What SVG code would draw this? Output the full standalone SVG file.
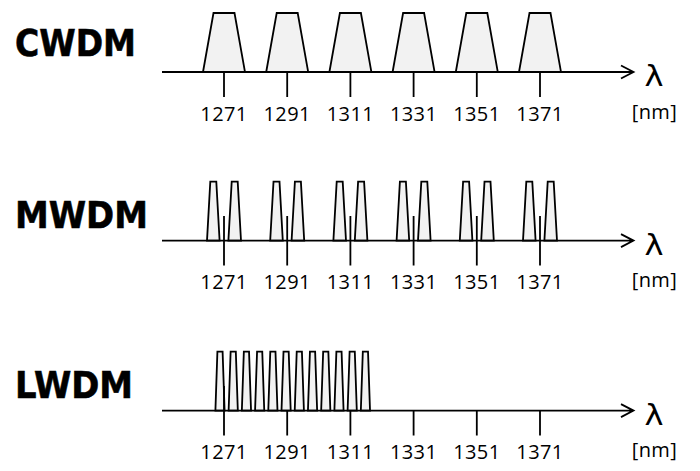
<svg xmlns="http://www.w3.org/2000/svg" xmlns:xlink="http://www.w3.org/1999/xlink" width="700" height="471" viewBox="0 0 700 471">
<style>
.title{font-family:"DejaVu Sans","Liberation Sans",sans-serif;font-weight:bold;font-size:38px;fill:#000;stroke:#000;stroke-width:0.6}
.lbl{font-family:"Open Sans","Liberation Sans",sans-serif;font-size:20px;letter-spacing:0.4px;fill:#000;text-anchor:middle}
.lam{font-family:"DejaVu Sans","Liberation Sans",sans-serif;font-size:29px;fill:#000;text-anchor:middle}
.peaks{fill:#f2f2f2;stroke:#000;stroke-width:1.8;stroke-linejoin:miter}
.ln{fill:none;stroke:#000;stroke-width:1.8}
</style>
<defs>
<polygon id="pc" points="-21,0 -10.5,-59 10.5,-59 21,0"/>
<polygon id="pm" points="-6.3,0 -3,-59 3,-59 6.3,0"/>
<polygon id="pl" points="-4.6,0 -2.6,-59 2.6,-59 4.6,0"/>
<g id="axis">
<path class="ln" d="M162,0 H633 M621,-6.5 L633.5,0 L621,6.5"/>
<path class="ln" d="M224,0 V25 M287.2,0 V25 M350.4,0 V25 M413.6,0 V25 M476.8,0 V25 M540,0 V25"/>
<text class="lbl" x="224" y="48.7">1271</text>
<text class="lbl" x="287.2" y="48.7">1291</text>
<text class="lbl" x="350.4" y="48.7">1311</text>
<text class="lbl" x="413.6" y="48.7">1331</text>
<text class="lbl" x="476.8" y="48.7">1351</text>
<text class="lbl" x="540" y="48.7">1371</text>
<text class="lam" x="654" y="14" textLength="19" lengthAdjust="spacingAndGlyphs">λ</text>
<text class="lbl" x="654.5" y="46.5">[nm]</text>
</g>
</defs>

<g id="cwdm" transform="translate(0,72)">
<text class="title" x="15" y="-16" textLength="121" lengthAdjust="spacingAndGlyphs">CWDM</text>
<g class="peaks">
<use xlink:href="#pc" x="224"/>
<use xlink:href="#pc" x="287.2"/>
<use xlink:href="#pc" x="350.4"/>
<use xlink:href="#pc" x="413.6"/>
<use xlink:href="#pc" x="476.8"/>
<use xlink:href="#pc" x="540"/>
</g>
<use xlink:href="#axis"/>
</g>

<g id="mwdm" transform="translate(0,240.6)">
<text class="title" x="15" y="-12.6" textLength="133" lengthAdjust="spacingAndGlyphs">MWDM</text>
<g class="peaks">
<use xlink:href="#pm" x="213.3"/><use xlink:href="#pm" x="234.7"/>
<use xlink:href="#pm" x="276.5"/><use xlink:href="#pm" x="297.9"/>
<use xlink:href="#pm" x="339.7"/><use xlink:href="#pm" x="361.1"/>
<use xlink:href="#pm" x="402.9"/><use xlink:href="#pm" x="424.3"/>
<use xlink:href="#pm" x="466.1"/><use xlink:href="#pm" x="487.5"/>
<use xlink:href="#pm" x="529.3"/><use xlink:href="#pm" x="550.7"/>
</g>
<path class="ln" d="M224,0 V-24.5 M287.2,0 V-24.5 M350.4,0 V-24.5 M413.6,0 V-24.5 M476.8,0 V-24.5 M540,0 V-24.5"/>
<use xlink:href="#axis"/>
</g>

<g id="lwdm" transform="translate(0,410.6)">
<text class="title" x="15" y="-12.6" textLength="118" lengthAdjust="spacingAndGlyphs">LWDM</text>
<g class="peaks">
<use xlink:href="#pl" x="220"/>
<use xlink:href="#pl" x="233.22"/>
<use xlink:href="#pl" x="246.44"/>
<use xlink:href="#pl" x="259.66"/>
<use xlink:href="#pl" x="272.88"/>
<use xlink:href="#pl" x="286.1"/>
<use xlink:href="#pl" x="299.32"/>
<use xlink:href="#pl" x="312.54"/>
<use xlink:href="#pl" x="325.76"/>
<use xlink:href="#pl" x="338.98"/>
<use xlink:href="#pl" x="352.2"/>
<use xlink:href="#pl" x="365.42"/>
</g>
<path class="ln" d="M224,0 V-24.7"/>
<use xlink:href="#axis"/>
</g>
</svg>
